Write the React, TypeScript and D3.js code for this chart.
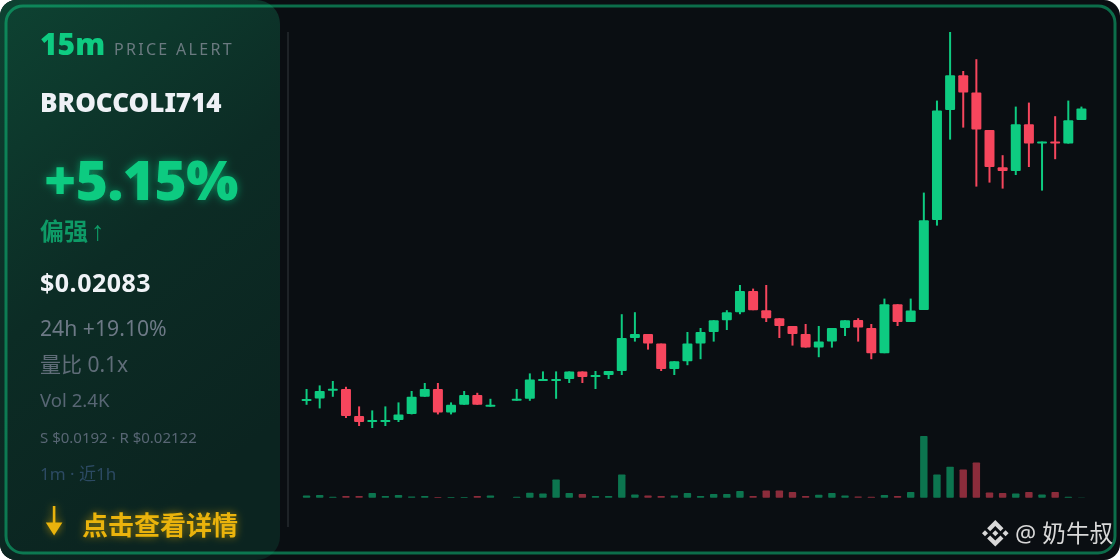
import { useEffect, useRef } from "react";
import * as d3 from "d3";

// prices are in millionths (19360 = $0.019360); index 15 had no trades
const opens = [19360, 19368, 19406, 19415, 19280, 19250, 19250, 19260, 19290, 19376, 19415, 19298, 19336, 19385, 19330, null, 19356, 19366, 19455, 19455, 19465, 19503, 19475, 19485, 19505, 19670, 19690, 19642, 19515, 19554, 19642, 19700, 19759, 19799, 19905, 19809, 19769, 19730, 19690, 19622, 19652, 19720, 19760, 19720, 19594, 19839, 19750, 19810, 20260, 20810, 20984, 20897, 20710, 20524, 20505, 20739, 20642, 20652, 20642, 20760];
const closes = [19365, 19405, 19416, 19280, 19250, 19260, 19260, 19288, 19376, 19415, 19298, 19336, 19385, 19336, 19336, null, 19366, 19463, 19465, 19465, 19503, 19475, 19485, 19505, 19670, 19690, 19642, 19515, 19554, 19642, 19700, 19759, 19799, 19905, 19809, 19769, 19730, 19690, 19622, 19652, 19720, 19759, 19722, 19594, 19839, 19750, 19807, 20259, 20807, 20984, 20897, 20712, 20525, 20505, 20739, 20642, 20652, 20642, 20759, 20817];
const highs = [19415, 19433, 19455, 19426, 19328, 19308, 19328, 19348, 19405, 19445, 19445, 19348, 19405, 19396, 19366, null, 19415, 19493, 19503, 19503, 19503, 19503, 19505, 19505, 19789, 19799, 19690, 19642, 19554, 19700, 19720, 19759, 19809, 19935, 19917, 19935, 19769, 19730, 19740, 19730, 19720, 19759, 19769, 19740, 19867, 19839, 19867, 20397, 20857, 21200, 21005, 21064, 20710, 20584, 20827, 20847, 20652, 20779, 20857, 20827];
const lows = [19336, 19318, 19376, 19270, 19230, 19220, 19230, 19250, 19288, 19376, 19288, 19288, 19336, 19336, 19326, null, 19356, 19356, 19455, 19366, 19445, 19445, 19415, 19465, 19485, 19652, 19612, 19505, 19485, 19534, 19564, 19652, 19710, 19789, 19809, 19750, 19670, 19632, 19622, 19574, 19622, 19680, 19652, 19564, 19594, 19730, 19750, 19810, 20232, 20662, 20722, 20427, 20447, 20417, 20485, 20525, 20407, 20564, 20642, 20760];
const volumes = [230, 270, 100, 170, 170, 470, 170, 270, 130, 170, 70, 70, 70, 170, 230, null, 100, 500, 430, 1830, 470, 370, 170, 170, 2330, 330, 230, 170, 230, 470, 170, 370, 370, 670, 170, 730, 730, 570, 170, 300, 470, 230, 130, 100, 270, 170, 570, 6170, 2330, 3100, 2830, 3530, 530, 470, 430, 570, 330, 570, 100, 30];

const infoRows = [
  { text: "24h +19.10%", y: 336, size: 21.2, fill: "#6d7986" },
  { text: "量比 0.1x", y: 372, size: 21, fill: "#606d79" },
  { text: "Vol 2.4K", y: 407, size: 18.6, fill: "#586674" },
  { text: "S $0.0192 · R $0.02122", y: 443, size: 15, fill: "#586674" },
  { text: "1m · 近1h", y: 480, size: 17, fill: "#2c4a63" },
];

const UP = "#0ecb81";
const DOWN = "#f6465d";
const SANS = "'Noto Sans', 'Noto Sans CJK SC', sans-serif";
const BOLD = "'Noto Sans CJK SC', 'Noto Sans', sans-serif";
const HEAVY = "'Noto Sans', 'Noto Sans CJK SC', sans-serif";
const BINANCE =
  "M38.73 53.2l24.59-24.58 24.6 24.6 14.3-14.31L63.32 0 24.43 38.9l14.3 14.3z M0 63.31l14.3-14.31 14.31 14.31-14.31 14.3z M38.73 73.41l24.59 24.59 24.6-24.6 14.31 14.29-38.9 38.91-38.91-38.88v-.03l14.31-14.28z M98 63.31l14.3-14.31 14.31 14.3-14.31 14.32z M77.83 63.3L63.32 48.78 52.59 59.51l-1.24 1.23-2.54 2.54 14.51 14.5 14.51-14.47z";

export default function App() {
  const svgRef = useRef<SVGSVGElement>(null);

  useEffect(() => {
    if (!svgRef.current) return;
    const svg = d3.select(svgRef.current);
    svg.selectAll("*").remove();

    const defs = svg.append("defs");
    const grad = defs
      .append("linearGradient")
      .attr("id", "panel-grad")
      .attr("x1", "0%")
      .attr("y1", "0%")
      .attr("x2", "45%")
      .attr("y2", "100%");
    grad.append("stop").attr("offset", "0%").attr("stop-color", "#0e4433");
    grad.append("stop").attr("offset", "55%").attr("stop-color", "#0c2c25");
    grad.append("stop").attr("offset", "100%").attr("stop-color", "#0b2420");

    const glow = (id: string, blur: number) => {
      const f = defs
        .append("filter")
        .attr("id", id)
        .attr("x", "-20%")
        .attr("y", "-40%")
        .attr("width", "140%")
        .attr("height", "180%");
      f.append("feGaussianBlur").attr("in", "SourceGraphic").attr("stdDeviation", blur).attr("result", "b");
      f.append("feComponentTransfer")
        .attr("in", "b")
        .attr("result", "soft")
        .append("feFuncA")
        .attr("type", "linear")
        .attr("slope", 0.6);
      const m = f.append("feMerge");
      m.append("feMergeNode").attr("in", "soft");
      m.append("feMergeNode").attr("in", "SourceGraphic");
    };
    glow("glow-green", 4);
    glow("glow-yellow", 4);

    // card
    const clip = defs.append("clipPath").attr("id", "card-clip");
    clip.append("rect").attr("width", 1120).attr("height", 560).attr("rx", 16);
    const card = svg.append("g").attr("clip-path", "url(#card-clip)");
    card.append("rect").attr("width", 1120).attr("height", 560).attr("fill", "#0a0e12");
    card
      .append("rect")
      .attr("x", -30)
      .attr("y", 0)
      .attr("width", 310)
      .attr("height", 560)
      .attr("rx", 24)
      .attr("fill", "url(#panel-grad)");
    card
      .append("rect")
      .attr("x", 6)
      .attr("y", 6)
      .attr("width", 1109)
      .attr("height", 547)
      .attr("rx", 17)
      .attr("fill", "none")
      .attr("stroke", UP)
      .attr("stroke-opacity", 0.5)
      .attr("stroke-width", 3);

    svg
      .append("line")
      .attr("x1", 288)
      .attr("x2", 288)
      .attr("y1", 32)
      .attr("y2", 527)
      .attr("stroke", "#262b2f")
      .attr("stroke-width", 1.5);

    // left panel text
    const label = (
      text: string,
      x: number,
      y: number,
      size: number,
      fill: string,
      weight = 400,
      family = SANS
    ) =>
      svg
        .append("text")
        .attr("x", x)
        .attr("y", y)
        .attr("font-size", size)
        .attr("font-weight", weight)
        .attr("font-family", family)
        .attr("fill", fill)
        .text(text);

    label("15m", 40, 55, 30, UP, 900, HEAVY);
    label("PRICE ALERT", 114, 55, 16, "#6b7a80").attr("letter-spacing", 2.3);
    label("BROCCOLI714", 40, 112, 26, "#eef1f6", 900, HEAVY);
    label("+5.15%", 44, 200, 55, UP, 900, HEAVY).attr("letter-spacing", -0.5).attr("filter", "url(#glow-green)");
    label("偏强", 40, 240, 24, "#0e9a66", 700, BOLD);
    label("↑", 91, 240, 27, "#0e9a66", 400, "'Liberation Sans', sans-serif");
    label("$0.02083", 40, 292, 25, "#f0f3f7", 700, HEAVY).attr("letter-spacing", 0.5);
    infoRows.forEach((r) => label(r.text, 40, r.y, r.size, r.fill));

    svg
      .append("path")
      .attr("d", "M52.8 506h2.6v16.5h7l-8.3 13-8.3-13h7z")
      .attr("fill", "#eab308")
      .attr("filter", "url(#glow-yellow)");
    label("点击查看详情", 82, 535, 26, "#eab308", 700, BOLD).attr("filter", "url(#glow-yellow)");

    // candles
    const index = d3.range(opens.length);
    const x = d3.scaleBand<number>().domain(index).range([300, 1088]).paddingInner(0.24).paddingOuter(0.12);
    const y = d3.scaleLinear().domain([19225, 21200]).range([427, 32]);
    const yVol = d3
      .scaleLinear()
      .domain([0, d3.max(volumes, (v) => v ?? 0) as number])
      .range([497.7, 436]);

    const traded = index.filter((i) => opens[i] !== null);
    const color = (i: number) => ((closes[i] as number) >= (opens[i] as number) ? UP : DOWN);
    const center = (i: number) => (x(i) as number) + x.bandwidth() / 2;

    const candles = svg.append("g").selectAll("g").data(traded).join("g");
    candles
      .append("line")
      .attr("x1", center)
      .attr("x2", center)
      .attr("y1", (i) => y(highs[i] as number))
      .attr("y2", (i) => y(lows[i] as number))
      .attr("stroke", color)
      .attr("stroke-width", 2);
    candles
      .append("rect")
      .attr("x", (i) => x(i) as number)
      .attr("width", x.bandwidth())
      .attr("y", (i) => y(Math.max(opens[i] as number, closes[i] as number)))
      .attr("height", (i) => Math.max(2, Math.abs(y(opens[i] as number) - y(closes[i] as number))))
      .attr("rx", 1)
      .attr("fill", color);

    // volume
    svg
      .append("g")
      .selectAll("rect")
      .data(traded)
      .join("rect")
      .attr("x", (i) => center(i) - 3.7)
      .attr("width", 7.4)
      .attr("y", (i) => yVol(volumes[i] as number))
      .attr("height", (i) => yVol(0) - yVol(volumes[i] as number))
      .attr("rx", 0.8)
      .attr("fill", color)
      .attr("opacity", 0.55);

    // watermark
    svg
      .append("path")
      .attr("d", BINANCE)
      .attr("transform", "translate(982,520) scale(0.21)")
      .attr("fill", "#d8d8d8");
    label("@ 奶牛叔", 1015, 542, 23.6, "#d8d8d8");
  }, []);

  return (
    <svg
      ref={svgRef}
      width={1120}
      height={560}
      style={{ position: "fixed", left: 0, top: 0, display: "block" }}
    />
  );
}
